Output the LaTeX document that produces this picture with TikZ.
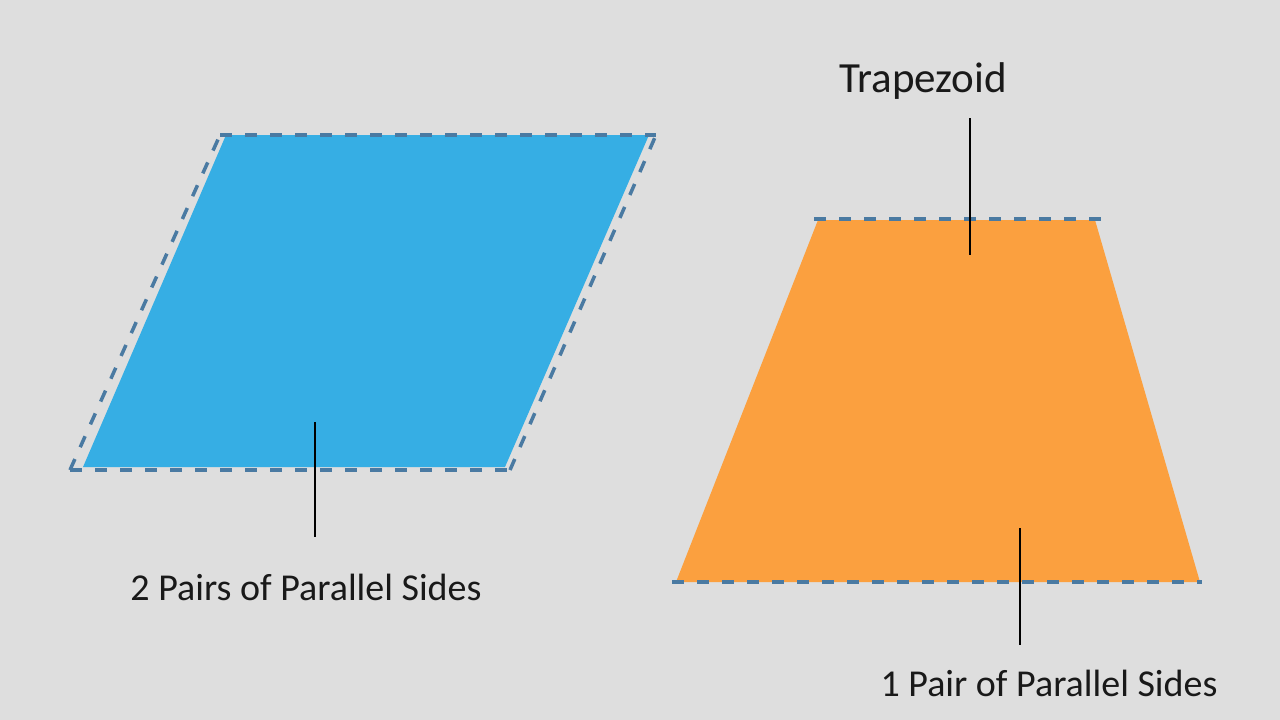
\documentclass[tikz,border=0pt]{standalone}
\usepackage{fontspec}
\setmainfont{Carlito}
\definecolor{bg}{HTML}{DEDEDE}
\definecolor{pblue}{HTML}{36AEE4}
\definecolor{porange}{HTML}{FBA03F}
\definecolor{dash}{HTML}{4A7AA2}
\begin{document}
\begin{tikzpicture}[x=1pt,y=-1pt,
  dashln/.style={draw=dash,line width=3.5pt,dash pattern=on 12pt off 13pt},
  leader/.style={draw=black,line width=2pt},
  lbl/.style={font=\fontsize{38}{44}\selectfont,text=black!90,inner sep=0pt}]
\fill[bg] (0,0) rectangle (1280,720);
\useasboundingbox (0,0) rectangle (1280,720);
% parallelogram
\fill[pblue] (83,467) -- (505,467) -- (649,135) -- (226,135) -- cycle;
\coordinate (pa) at (70,470);
\coordinate (pb) at (510,470);
\coordinate (pc) at (656,135);
\coordinate (pd) at (220,135);
\draw[dashln] (pa) -- (pb);
\draw[dashln] (pd) -- (pc);
\draw[dashln] (pa) -- (pd);
\draw[dashln] (pb) -- (pc);
% trapezoid
\fill[porange] (818,220) -- (1095,220) -- (1200,582) -- (676,582) -- cycle;
\coordinate (ta) at (672,582);
\coordinate (tb) at (1202,582);
\coordinate (tc) at (1104,219);
\coordinate (td) at (814,219);
\draw[dashln] (ta) -- (tb);
\draw[dashln] (td) -- (tc);
% labels
\node[lbl] (l1) at (306,587) {2 Pairs of Parallel Sides};
\coordinate (l1top) at (315,422);
\draw[leader] (l1top) -- (315,537);
\node[lbl,font=\fontsize{43}{49}\selectfont] (l2) at (923,81) {Trapezoid};
\coordinate (l2bot) at (970,255);
\draw[leader] (970,118) -- (l2bot);
\node[lbl] (l3) at (1049,683) {1 Pair of Parallel Sides};
\coordinate (l3top) at (1020,528);
\draw[leader] (l3top) -- (1020,645);
\end{tikzpicture}
\end{document}
